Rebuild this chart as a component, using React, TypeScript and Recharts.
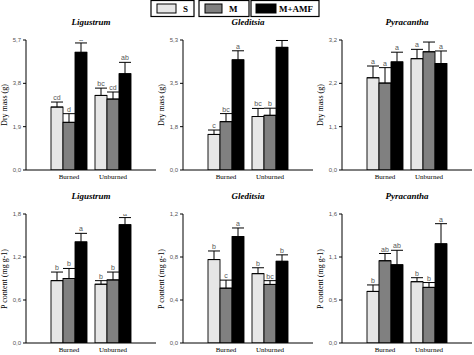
import React from 'react';
import { BarChart, Bar, XAxis, YAxis, ErrorBar } from 'recharts';

const groups = ['Burned', 'Unburned'];
const seriesNames = ['S', 'M', 'M+AMF'];
const titles = ['Ligustrum', 'Gleditsia', 'Pyracantha'];
const yLabels = ['Dry mass (g)', 'P content (mg g-1)'];

// Dry mass
const ligDryMeans = [[2.76, 3.27], [2.09, 3.11], [5.16, 4.22]];
const ligDryErrs = [[0.22, 0.32], [0.38, 0.31], [0.41, 0.5]];
const ligDryLetters = [['cd', 'bc'], ['d', 'cd'], ['a', 'ab']];
const ligDryTicks = ['0,0', '1,9', '3,8', '5,7'];
const ligDryMax = 5.7;

const gleDryMeans = [[1.45, 2.18], [1.97, 2.23], [4.49, 5.0]];
const gleDryErrs = [[0.18, 0.33], [0.33, 0.29], [0.37, 0.28]];
const gleDryLetters = [['c', 'bc'], ['bc', 'b'], ['a', 'a']];
const gleDryTicks = ['0,0', '1,8', '3,5', '5,3'];
const gleDryMax = 5.3;

const pyrDryMeans = [[2.27, 2.74], [2.14, 2.91], [2.66, 2.62]];
const pyrDryErrs = [[0.29, 0.23], [0.38, 0.24], [0.24, 0.31]];
const pyrDryLetters = [['a', 'a'], ['a', 'a'], ['a', 'a']];
const pyrDryTicks = ['0,0', '1,1', '2,2', '3,2'];
const pyrDryMax = 3.2;

// P content
const ligPMeans = [[0.87, 0.82], [0.9, 0.88], [1.41, 1.65]];
const ligPErrs = [[0.12, 0.05], [0.14, 0.11], [0.12, 0.1]];
const ligPLetters = [['b', 'b'], ['b', 'b'], ['a', 'a']];
const ligPTicks = ['0,0', '0,6', '1,2', '1,8'];
const ligPMax = 1.8;

const glePMeans = [[0.776, 0.645], [0.51, 0.545], [0.99, 0.76]];
const glePErrs = [[0.08, 0.055], [0.075, 0.035], [0.08, 0.06]];
const glePLetters = [['b', 'b'], ['c', 'bc'], ['a', 'b']];
const glePTicks = ['0,0', '0,4', '0,8', '1,2'];
const glePMax = 1.2;

const pyrPMeans = [[0.64, 0.76], [1.02, 0.69], [0.97, 1.23]];
const pyrPErrs = [[0.08, 0.05], [0.09, 0.06], [0.18, 0.25]];
const pyrPLetters = [['b', 'b'], ['ab', 'b'], ['ab', 'a']];
const pyrPTicks = ['0,0', '0,5', '1,1', '1,6'];
const pyrPMax = 1.6;

const keys = ['s', 'm', 'amf'];
const fills = ['#e6e6e6', '#808080', '#000000'];

function buildRows(means: number[][], errs: number[][], letters: string[][]) {
  return groups.map((g, i) => {
    const row: any = { group: g };
    keys.forEach((k, j) => {
      row[k] = means[j][i];
      row[k + 'Err'] = [0, errs[j][i]];
      row[k + 'E'] = errs[j][i];
      row[k + 'Let'] = letters[j][i];
    });
    return row;
  });
}

const makeShape = (key: string) => (props: any) => {
  const { x, y, width, height, fill } = props;
  const p = props.payload || props;
  const v = p[key];
  const e = p[key + 'E'];
  const ppu = v ? height / v : 0;
  const top = y - e * ppu;
  return (
    <g>
      <rect x={x} y={y} width={width} height={height} fill={fill} stroke="#000" strokeWidth={0.9} />
      <text x={x + width / 2} y={top - 2} textAnchor="middle" fontSize={7} fontFamily="Liberation Sans" fill="#555">
        {p[key + 'Let']}
      </text>
    </g>
  );
};

const AXIS_W = 26;
const CHART_W = 158;
const colAxisX = [26, 183, 342];

type PanelProps = {
  means: number[][];
  errs: number[][];
  letters: string[][];
  tickLabels: string[];
  max: number;
  left: number;
  top: number;
  plotTop: number;
  plotH: number;
  bottom: number;
};

function Panel({ means, errs, letters, tickLabels, max, left, top, plotTop, plotH, bottom }: PanelProps) {
  const rows = buildRows(means, errs, letters);
  const ticks = [0, max / 3, (2 * max) / 3, max];
  return (
    <div style={{ position: 'absolute', left, top }}>
      <BarChart
        width={CHART_W}
        height={plotTop + plotH + bottom}
        data={rows}
        margin={{ top: plotTop, right: 2, bottom: 0, left: 0 }}
        barCategoryGap={4}
        barGap={0}
      >
        <XAxis
          dataKey="group"
          height={bottom}
          padding={{ left: 21, right: 21 }}
          axisLine={{ stroke: '#000', strokeWidth: 1 }}
          tickLine={false}
          tickSize={2}
          interval={0}
          tick={{ fontSize: 7, fontFamily: 'Liberation Serif', fill: '#000' }}
        />
        <YAxis
          width={AXIS_W}
          domain={[0, max]}
          allowDataOverflow
          ticks={ticks}
          interval={0}
          tickFormatter={(v: any, i: number) => tickLabels[i]}
          axisLine={{ stroke: '#000', strokeWidth: 1 }}
          tickLine={{ stroke: '#000' }}
          tickSize={3}
          tickMargin={2}
          tick={{ fontSize: 6, fontFamily: 'Liberation Sans', fill: '#555' }}
        />
        {keys.map((k, j) => (
          <Bar key={k} dataKey={k} fill={fills[j]} isAnimationActive={false} shape={makeShape(k)}>
            <ErrorBar dataKey={k + 'Err'} width={6} stroke="#000" strokeWidth={1} direction="y" />
          </Bar>
        ))}
      </BarChart>
    </div>
  );
}

const row1Top = 0;
const row2Top = 175;

export default function App() {
  const row1 = { top: row1Top, plotTop: 40, plotH: 130, bottom: 15 };
  const row2 = { top: row2Top, plotTop: 39, plotH: 129, bottom: 12 };
  const plotCenters = colAxisX.map((x) => x + 65);
  const legendItems = [
    { fx: 151, fw: 43, sx: 157, sw: 19, tx: 183 },
    { fx: 199, fw: 50, sx: 205, sw: 17, tx: 229 },
    { fx: 251, fw: 68, sx: 256, sw: 20, tx: 279 },
  ];
  return (
    <div style={{ position: 'absolute', left: 0, top: 0, width: 474, height: 355, overflow: 'hidden', background: '#fff' }}>
      <Panel means={ligDryMeans} errs={ligDryErrs} letters={ligDryLetters} tickLabels={ligDryTicks} max={ligDryMax} left={colAxisX[0] - AXIS_W} {...row1} />
      <Panel means={gleDryMeans} errs={gleDryErrs} letters={gleDryLetters} tickLabels={gleDryTicks} max={gleDryMax} left={colAxisX[1] - AXIS_W} {...row1} />
      <Panel means={pyrDryMeans} errs={pyrDryErrs} letters={pyrDryLetters} tickLabels={pyrDryTicks} max={pyrDryMax} left={colAxisX[2] - AXIS_W} {...row1} />
      <Panel means={ligPMeans} errs={ligPErrs} letters={ligPLetters} tickLabels={ligPTicks} max={ligPMax} left={colAxisX[0] - AXIS_W} {...row2} />
      <Panel means={glePMeans} errs={glePErrs} letters={glePLetters} tickLabels={glePTicks} max={glePMax} left={colAxisX[1] - AXIS_W} {...row2} />
      <Panel means={pyrPMeans} errs={pyrPErrs} letters={pyrPLetters} tickLabels={pyrPTicks} max={pyrPMax} left={colAxisX[2] - AXIS_W} {...row2} />
      <svg width={474} height={355} style={{ position: 'absolute', left: 0, top: 0, pointerEvents: 'none' }}>
        {legendItems.map((it, i) => (
          <g key={i}>
            <rect x={it.fx} y={0.5} width={it.fw} height={16} fill="#fff" stroke="#000" strokeWidth={1.2} />
            <rect x={it.sx} y={4} width={it.sw} height={9} fill={fills[i]} stroke="#000" strokeWidth={1} />
            <text x={it.tx} y={12} fontSize={9} fontWeight="bold" fontFamily="Liberation Serif" fill="#000">
              {seriesNames[i]}
            </text>
          </g>
        ))}
        {titles.map((t, i) => (
          <text key={'t1' + i} x={plotCenters[i]} y={25} textAnchor="middle" fontSize={9} fontWeight="bold" fontStyle="italic" fontFamily="Liberation Serif">
            {t}
          </text>
        ))}
        {titles.map((t, i) => (
          <text key={'t2' + i} x={plotCenters[i]} y={199} textAnchor="middle" fontSize={9} fontWeight="bold" fontStyle="italic" fontFamily="Liberation Serif">
            {t}
          </text>
        ))}
        {colAxisX.map((x, i) => (
          <text key={'y1' + i} transform={`translate(${x - 21},105) rotate(-90)`} textAnchor="middle" dominantBaseline="middle" fontSize={8} fontFamily="Liberation Serif">
            {yLabels[0]}
          </text>
        ))}
        {colAxisX.map((x, i) => (
          <text key={'y2' + i} transform={`translate(${x - 21},279) rotate(-90)`} textAnchor="middle" dominantBaseline="middle" fontSize={8} fontFamily="Liberation Serif">
            {yLabels[1]}
          </text>
        ))}
      </svg>
    </div>
  );
}
